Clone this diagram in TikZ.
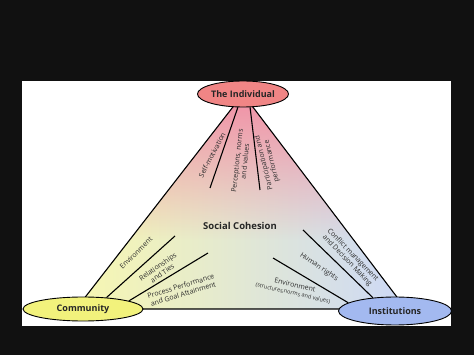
\documentclass[tikz,border=0pt]{standalone}
\usepackage{fontspec}
\setmainfont{Open Sans}
\usetikzlibrary{shapes.geometric, fadings}
\definecolor{bgdark}{HTML}{111111}
\definecolor{indivred}{HTML}{F08585}
\definecolor{commyellow}{HTML}{F2F27C}
\definecolor{instblue}{HTML}{A3B9F0}
\definecolor{toppink}{HTML}{F28FA5}
\definecolor{tagtext}{HTML}{2B2B2B}
% tiny second line under the institutions' environment tag
\newcommand{\subtagfont}{\fontsize{5.5}{6.5}\selectfont}
\tikzfading[name=fade down, top color=transparent!0, bottom color=transparent!100]
\tikzset{
    cohesion/.style={x=1pt, y=-1pt},
    hub/.style={draw, ellipse, line width=0.9pt, inner sep=0pt, font=\fontsize{9}{10}\selectfont\bfseries, text=black!85},
    spoke/.style={line width=1.1pt},
    tag/.style={font=\fontsize{7}{8}\selectfont, text=tagtext, align=center, inner sep=0pt},
}

\begin{document}
\begin{tikzpicture}[cohesion]
        \fill[bgdark] (0,0) rectangle (474,355);
        \fill[white] (22,81) rectangle (451,326);

        \coordinate (apex) at (243,94);
        \coordinate (lc)   at (76,309);
        \coordinate (rc)   at (406,309);

        \fill[left color=commyellow!60!white, middle color=white, right color=instblue!55!white] (apex) -- (lc) -- (rc) -- cycle;
        \begin{scope}
            \clip (apex) -- (lc) -- (rc) -- cycle;
            \fill[toppink, path fading=fade down] (22,94) rectangle (451,240);
        \end{scope}
        \draw[spoke] (apex) -- (lc) -- (rc) -- cycle;

        \node[hub, fill=indivred, minimum width=91pt, minimum height=26pt]   (indiv) at (apex)    {The Individual};
        \node[hub, fill=commyellow, minimum width=120pt, minimum height=24pt] (comm) at (83,309) {Community};
        \node[hub, fill=instblue, minimum width=113pt, minimum height=28pt]  (inst)  at (395,311) {Institutions};

        \node[font=\fontsize{9.5}{11}\selectfont\bfseries, text=black!85] (cohesion) at (240,226) {Social Cohesion};

        \coordinate (selfend)   at (210,188);
        \coordinate (percend)   at (260,190);
        \coordinate (envend)    at (175,236);
        \coordinate (relend)    at (208,253);
        \coordinate (confend)   at (303,230);
        \coordinate (rightsend) at (273,258);

        \draw[spoke] (indiv.249) -- (selfend);
        \draw[spoke] (indiv.298) -- (percend);
        \draw[spoke] (comm.26)   -- (envend);
        \draw[spoke] (comm.10)   -- (relend);
        \draw[spoke] (inst.149)  -- (confend);
        \draw[spoke] (inst.170)  -- (rightsend);

        \node[tag, rotate=62]  (selfmot)  at (212,155) {Self-motivation};
        \node[tag, rotate=84]  (percep)   at (241,161) {Perceptions, norms\\and values};
        \node[tag, rotate=104] (partic)   at (268,162) {Participation and\\performance};
        \node[tag, rotate=44]  (envcomm)  at (136,253) {Environment};
        \node[tag, rotate=35]  (relat)    at (160,270) {Relationships\\and Ties};
        \node[tag, rotate=17]  (process)  at (182,290) {Process Performance\\and Goal Attainment};
        \node[tag, rotate=-46] (conflict) at (350,258) {Conflict management\\and Decision Making};
        \node[tag, rotate=-34] (rights)   at (319,267) {Human rights};
        \node[tag, rotate=-13] (envinst)  at (294,289) {Environment\\{\subtagfont(structures,norms and values)}};
    \end{tikzpicture}
\end{document}
